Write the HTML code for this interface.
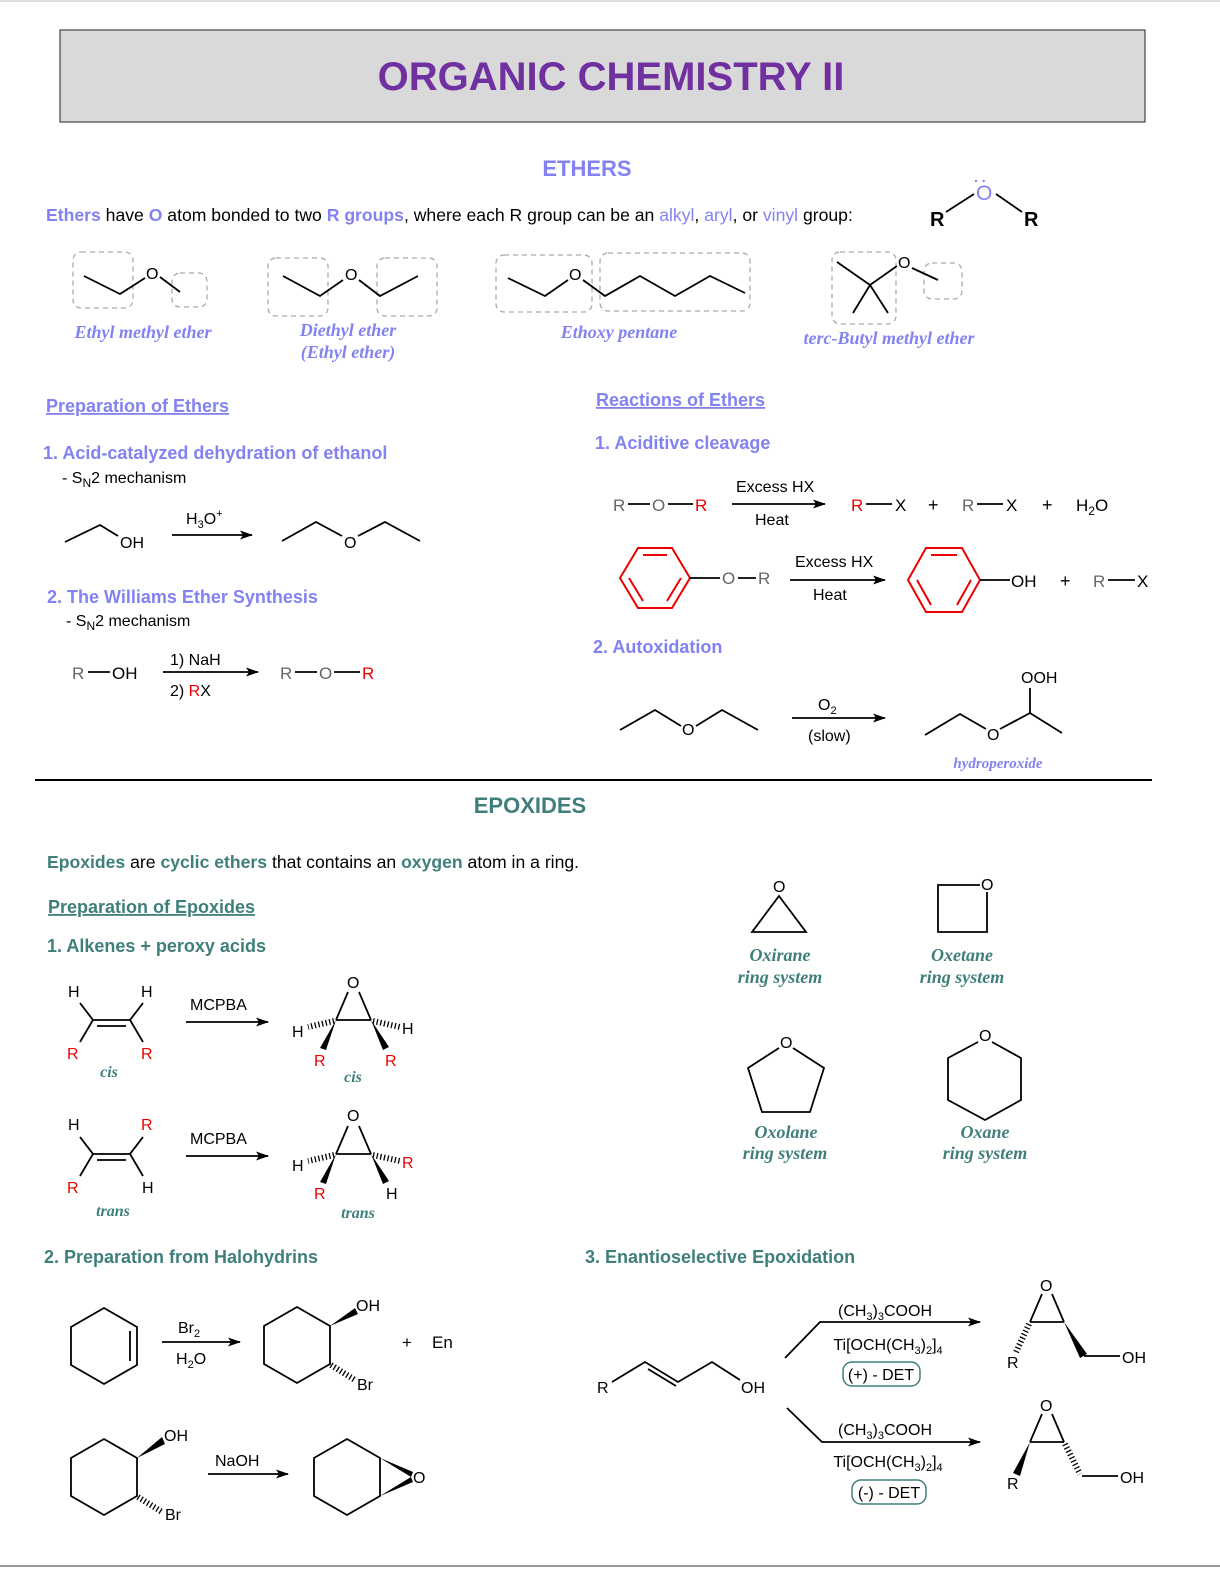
<!DOCTYPE html>
<html><head><meta charset="utf-8"><style>
html,body{margin:0;padding:0;background:#fff}
svg{display:block}
text{font-family:"Liberation Sans",sans-serif}
.lv{fill:#8282f2}
.tl{fill:#3f7f7b}
.b{font-weight:bold}
.it{font-family:"Liberation Serif",serif;font-style:italic;font-weight:bold;font-size:18px}
.s{stroke:#000;stroke-width:1.8;fill:none}
.red{fill:#e00}
.gr{fill:#666}
.box{stroke:#aaa;stroke-width:1.3;fill:none;stroke-dasharray:5 4}
.h{stroke:#000;stroke-width:6;stroke-dasharray:1.3 2.4;fill:none}
</style></head><body>
<svg width="1220" height="1588" viewBox="0 0 1220 1588" xmlns="http://www.w3.org/2000/svg">
<defs><marker id="ar" markerWidth="13" markerHeight="9" refX="12" refY="4.5" orient="auto" markerUnits="userSpaceOnUse"><path d="M0,0 L13,4.5 L0,9 L3,4.5z" fill="#000"/></marker></defs>
<line x1="0" y1="1" x2="1220" y2="1" stroke="#bbb"/>
<line x1="0" y1="1566" x2="1220" y2="1566" stroke="#999" stroke-width="2"/>
<rect x="60" y="30" width="1085" height="92" fill="#d9d9d9" stroke="#444" stroke-width="1.2"/>
<text x="611" y="90" text-anchor="middle" font-size="40" font-weight="bold" fill="#7030a0">ORGANIC CHEMISTRY II</text>

<text x="587" y="176" text-anchor="middle" font-size="22" class="lv b">ETHERS</text>
<text x="46" y="221" font-size="17.6"><tspan class="lv b">Ethers</tspan> have <tspan class="lv b">O</tspan> atom bonded to two <tspan class="lv b">R groups</tspan>, where each R group can be an <tspan class="lv">alkyl</tspan>, <tspan class="lv">aryl</tspan>, or <tspan class="lv">vinyl</tspan> group:</text>
<text x="930" y="226" font-size="20" font-weight="bold">R</text>
<text x="1024" y="226" font-size="20" font-weight="bold">R</text>
<text x="976" y="200" font-size="21" class="lv">O</text>
<text x="974" y="182" font-size="14" class="lv b">. .</text>
<path class="s" d="M946,212 L974,194 M996,194 L1022,212"/>

<!-- ethers -->
<rect class="box" x="73" y="252" width="60" height="56" rx="8"/><rect class="box" x="172" y="273" width="35" height="34" rx="8"/>
<path class="s" d="M84,276 L120,294 L145,278 M160,277 L180,292"/><text x="146" y="279" font-size="16">O</text>
<rect class="box" x="268" y="258" width="60" height="58" rx="8"/><rect class="box" x="377" y="258" width="60" height="58" rx="8"/>
<path class="s" d="M283,276 L320,296 L343,280 M359,280 L380,296 L418,276"/><text x="345" y="280" font-size="16">O</text>
<rect class="box" x="496" y="255" width="96" height="57" rx="8"/><rect class="box" x="600" y="253" width="150" height="58" rx="8"/>
<path class="s" d="M508,278 L545,296 L568,280 M583,280 L605,296 L640,276 L675,296 L710,276 L745,293"/>
<text x="569" y="280" font-size="16">O</text>
<rect class="box" x="832" y="252" width="64" height="72" rx="8"/><rect class="box" x="924" y="263" width="38" height="36" rx="8"/>
<path class="s" d="M837,262 L870,285 L897,266 M870,285 L853,313 M870,285 L888,313 M912,268 L938,280"/>
<text x="898" y="268" font-size="16">O</text>
<text x="143" y="338" text-anchor="middle" class="it lv">Ethyl methyl ether</text>
<text x="348" y="336" text-anchor="middle" class="it lv">Diethyl ether</text>
<text x="348" y="358" text-anchor="middle" class="it lv">(Ethyl ether)</text>
<text x="619" y="338" text-anchor="middle" class="it lv">Ethoxy pentane</text>
<text x="889" y="344" text-anchor="middle" class="it lv">terc-Butyl methyl ether</text>

<!-- preparation of ethers -->
<text x="46" y="412" font-size="18" class="lv b" text-decoration="underline">Preparation of Ethers</text>
<text x="43" y="459" font-size="18" class="lv b">1. Acid-catalyzed dehydration of ethanol</text>
<text x="62" y="483" font-size="16">- S<tspan font-size="12" dy="4">N</tspan><tspan dy="-4">2 mechanism</tspan></text>
<path class="s" d="M65,542 L100,525 L118,536"/><text x="120" y="548" font-size="16">OH</text>
<line class="s" x1="172" y1="535" x2="252" y2="535" marker-end="url(#ar)"/>
<text x="186" y="524" font-size="16">H<tspan font-size="11" dy="4">3</tspan><tspan dy="-4">O</tspan><tspan font-size="11" dy="-7">+</tspan></text>
<path class="s" d="M282,541 L316,522 L342,536 M358,536 L385,522 L420,541"/><text x="344" y="548" font-size="16">O</text>
<text x="47" y="603" font-size="18" class="lv b">2. The Williams Ether Synthesis</text>
<text x="66" y="626" font-size="16">- S<tspan font-size="12" dy="4">N</tspan><tspan dy="-4">2 mechanism</tspan></text>
<text x="72" y="679" font-size="17" class="gr">R</text><line class="s" x1="88" y1="672" x2="110" y2="672"/><text x="112" y="679" font-size="17">OH</text>
<line class="s" x1="163" y1="672" x2="258" y2="672" marker-end="url(#ar)"/>
<text x="170" y="665" font-size="16">1) NaH</text><text x="170" y="696" font-size="16">2) <tspan class="red">R</tspan>X</text>
<text x="280" y="679" font-size="17" class="gr">R</text><line class="s" x1="295" y1="672" x2="317" y2="672"/><text x="319" y="679" font-size="17" class="gr">O</text><line class="s" x1="334" y1="672" x2="360" y2="672"/><text x="362" y="679" font-size="17" class="red">R</text>

<!-- reactions of ethers -->
<text x="596" y="406" font-size="18" class="lv b" text-decoration="underline">Reactions of Ethers</text>
<text x="595" y="449" font-size="18" class="lv b">1. Aciditive cleavage</text>
<text x="613" y="511" font-size="17" class="gr">R</text><line class="s" x1="628" y1="504" x2="650" y2="504"/><text x="652" y="511" font-size="17" class="gr">O</text><line class="s" x1="668" y1="504" x2="693" y2="504"/><text x="695" y="511" font-size="17" class="red">R</text>
<line class="s" x1="732" y1="504" x2="825" y2="504" marker-end="url(#ar)"/>
<text x="736" y="492" font-size="16">Excess HX</text><text x="755" y="525" font-size="16">Heat</text>
<text x="851" y="511" font-size="17" class="red">R</text><line class="s" x1="866" y1="504" x2="892" y2="504"/><text x="895" y="511" font-size="17">X</text>
<text x="928" y="511" font-size="18">+</text>
<text x="962" y="511" font-size="17" class="gr">R</text><line class="s" x1="977" y1="504" x2="1003" y2="504"/><text x="1006" y="511" font-size="17">X</text>
<text x="1042" y="511" font-size="18">+</text>
<text x="1076" y="511" font-size="17">H<tspan font-size="12" dy="4">2</tspan><tspan dy="-4">O</tspan></text>
<g stroke="#e00" stroke-width="2" fill="none">
<polygon points="638,548 672,548 690,578 672,608 638,608 620,578"/>
<path d="M643,555 L667,555 M681,578 L667,601 M643,601 L629,578"/>
<polygon points="926,548 962,548 980,580 962,612 926,612 908,580"/>
<path d="M931,555 L957,555 M971,580 L957,605 M931,605 L917,580"/>
</g>
<line class="s" x1="690" y1="578" x2="720" y2="578"/><text x="722" y="584" font-size="17" class="gr">O</text><line class="s" x1="738" y1="578" x2="756" y2="578"/><text x="758" y="584" font-size="17" class="gr">R</text>
<line class="s" x1="790" y1="580" x2="885" y2="580" marker-end="url(#ar)"/>
<text x="795" y="567" font-size="16">Excess HX</text><text x="813" y="600" font-size="16">Heat</text>
<line class="s" x1="980" y1="580" x2="1010" y2="580"/><text x="1011" y="587" font-size="17">OH</text>
<text x="1060" y="587" font-size="18">+</text>
<text x="1093" y="587" font-size="17" class="gr">R</text><line class="s" x1="1108" y1="580" x2="1135" y2="580"/><text x="1137" y="587" font-size="17">X</text>
<text x="593" y="653" font-size="18" class="lv b">2. Autoxidation</text>
<path class="s" d="M620,730 L655,710 L681,726 M696,726 L722,710 L758,730"/><text x="682" y="735" font-size="16">O</text>
<line class="s" x1="792" y1="718" x2="885" y2="718" marker-end="url(#ar)"/>
<text x="818" y="710" font-size="16">O<tspan font-size="11" dy="4">2</tspan></text><text x="808" y="741" font-size="16">(slow)</text>
<path class="s" d="M925,735 L960,714 L986,729 M1000,729 L1030,713 L1062,733 M1030,713 L1030,688"/><text x="987" y="740" font-size="16">O</text>
<text x="1021" y="683" font-size="16">OOH</text>
<text x="998" y="768" text-anchor="middle" class="it lv" style="font-size:15px">hydroperoxide</text>

<line x1="35" y1="780" x2="1152" y2="780" stroke="#000" stroke-width="2"/>

<!-- epoxides -->
<text x="530" y="813" text-anchor="middle" font-size="22" class="tl b">EPOXIDES</text>
<text x="47" y="868" font-size="17.6"><tspan class="tl b">Epoxides</tspan> are <tspan class="tl b">cyclic ethers</tspan> that contains an <tspan class="tl b">oxygen</tspan> atom in a ring.</text>
<text x="48" y="913" font-size="18" class="tl b" text-decoration="underline">Preparation of Epoxides</text>
<text x="47" y="952" font-size="18" class="tl b">1. Alkenes + peroxy acids</text>

<!-- cis -->
<text x="68" y="997" font-size="16">H</text><text x="141" y="997" font-size="16">H</text>
<path class="s" d="M80,1003 L93,1020 L80,1042 M143,1003 L130,1020 L143,1042 M93,1020 L130,1020 M97,1026 L126,1026"/>
<text x="67" y="1059" font-size="16" class="red">R</text><text x="141" y="1059" font-size="16" class="red">R</text>
<text x="109" y="1077" text-anchor="middle" class="it tl" style="font-size:16px">cis</text>
<line class="s" x1="186" y1="1022" x2="268" y2="1022" marker-end="url(#ar)"/><text x="190" y="1010" font-size="16">MCPBA</text>
<text x="347" y="988" font-size="16">O</text>
<path class="s" d="M336,1020 L348,992 M371,1020 L359,992 M336,1020 L371,1020"/>
<line class="h" x1="334" y1="1021" x2="308" y2="1027"/><line class="h" x1="373" y1="1021" x2="400" y2="1027"/>
<text x="292" y="1037" font-size="16">H</text><text x="402" y="1034" font-size="16">H</text>
<polygon points="336,1020 320,1048 326,1050" fill="#000"/><polygon points="371,1020 383,1050 389,1047" fill="#000"/>
<text x="314" y="1066" font-size="16" class="red">R</text><text x="385" y="1066" font-size="16" class="red">R</text>
<text x="353" y="1082" text-anchor="middle" class="it tl" style="font-size:16px">cis</text>
<!-- trans -->
<text x="68" y="1130" font-size="16">H</text><text x="141" y="1130" font-size="16" class="red">R</text>
<path class="s" d="M80,1137 L93,1154 L80,1176 M143,1137 L130,1154 L143,1176 M93,1154 L130,1154 M97,1160 L126,1160"/>
<text x="67" y="1193" font-size="16" class="red">R</text><text x="142" y="1193" font-size="16">H</text>
<text x="113" y="1216" text-anchor="middle" class="it tl" style="font-size:16px">trans</text>
<line class="s" x1="186" y1="1156" x2="268" y2="1156" marker-end="url(#ar)"/><text x="190" y="1144" font-size="16">MCPBA</text>
<text x="347" y="1121" font-size="16">O</text>
<path class="s" d="M336,1154 L348,1126 M371,1154 L359,1126 M336,1154 L371,1154"/>
<line class="h" x1="334" y1="1155" x2="308" y2="1161"/><line class="h" x1="373" y1="1155" x2="400" y2="1161"/>
<text x="292" y="1171" font-size="16">H</text><text x="402" y="1168" font-size="16" class="red">R</text>
<polygon points="336,1154 320,1182 326,1184" fill="#000"/><polygon points="371,1154 383,1184 389,1181" fill="#000"/>
<text x="314" y="1199" font-size="16" class="red">R</text><text x="386" y="1199" font-size="16">H</text>
<text x="358" y="1218" text-anchor="middle" class="it tl" style="font-size:16px">trans</text>

<!-- rings -->
<text x="773" y="892" font-size="16">O</text>
<polygon class="s" points="779,896 806,932 752,932"/>
<text x="780" y="961" text-anchor="middle" class="it tl">Oxirane</text><text x="780" y="983" text-anchor="middle" class="it tl">ring system</text>
<path class="s" d="M980,885 L938,885 L938,932 L987,932 L987,892"/><text x="981" y="890" font-size="16">O</text>
<text x="962" y="961" text-anchor="middle" class="it tl">Oxetane</text><text x="962" y="983" text-anchor="middle" class="it tl">ring system</text>
<text x="780" y="1048" font-size="16">O</text>
<path class="s" d="M793,1048 L824,1068 L810,1112 L762,1112 L748,1068 L779,1048"/>
<text x="786" y="1138" text-anchor="middle" class="it tl">Oxolane</text><text x="785" y="1159" text-anchor="middle" class="it tl">ring system</text>
<text x="979" y="1041" font-size="16">O</text>
<path class="s" d="M992,1042 L1021,1058 L1021,1100 L985,1120 L948,1100 L948,1058 L978,1042"/>
<text x="985" y="1138" text-anchor="middle" class="it tl">Oxane</text><text x="985" y="1159" text-anchor="middle" class="it tl">ring system</text>

<!-- halohydrins -->
<text x="44" y="1263" font-size="18" class="tl b">2. Preparation from Halohydrins</text>
<polygon class="s" points="104,1308 137,1327 137,1365 104,1384 71,1365 71,1327"/>
<line class="s" x1="130" y1="1331" x2="130" y2="1361"/>
<line class="s" x1="162" y1="1342" x2="240" y2="1342" marker-end="url(#ar)"/>
<text x="178" y="1333" font-size="16">Br<tspan font-size="11" dy="4">2</tspan></text><text x="176" y="1364" font-size="16">H<tspan font-size="11" dy="4">2</tspan><tspan dy="-4">O</tspan></text>
<polygon class="s" points="297,1307 330,1326 330,1364 297,1383 264,1364 264,1326"/>
<polygon points="330,1326 355,1308 358,1314" fill="#000"/><text x="356" y="1311" font-size="16">OH</text>
<line class="h" x1="331" y1="1365" x2="355" y2="1380"/><text x="357" y="1390" font-size="16">Br</text>
<text x="402" y="1348" font-size="17">+</text><text x="432" y="1348" font-size="17">En</text>
<polygon class="s" points="104,1439 137,1458 137,1496 104,1515 71,1496 71,1458"/>
<polygon points="137,1458 162,1437 165,1444" fill="#000"/><text x="164" y="1441" font-size="16">OH</text>
<line class="h" x1="138" y1="1497" x2="162" y2="1512"/><text x="165" y="1520" font-size="16">Br</text>
<line class="s" x1="208" y1="1474" x2="288" y2="1474" marker-end="url(#ar)"/><text x="215" y="1466" font-size="16">NaOH</text>
<polygon class="s" points="347,1439 380,1458 380,1496 347,1515 314,1496 314,1458"/>
<polygon points="380,1458 413,1472 411,1477" fill="#000"/><polygon points="380,1496 413,1482 411,1477" fill="#000"/>
<text x="413" y="1483" font-size="16">O</text>

<!-- enantioselective -->
<text x="585" y="1263" font-size="18" class="tl b">3. Enantioselective Epoxidation</text>
<text x="597" y="1393" font-size="16">R</text>
<path class="s" d="M612,1382 L645,1362 L678,1382 L712,1362 L740,1380 M648,1369 L676,1386"/>
<text x="741" y="1393" font-size="16">OH</text>
<path class="s" d="M785,1358 L820,1322 L980,1322" marker-end="url(#ar)"/>
<text x="885" y="1316" text-anchor="middle" font-size="16">(CH<tspan font-size="11" dy="4">3</tspan><tspan dy="-4">)</tspan><tspan font-size="11" dy="4">3</tspan><tspan dy="-4">COOH</tspan></text>
<text x="888" y="1350" text-anchor="middle" font-size="16">Ti[OCH(CH<tspan font-size="11" dy="4">3</tspan><tspan dy="-4">)</tspan><tspan font-size="11" dy="4">2</tspan><tspan dy="-4">]</tspan><tspan font-size="11" dy="4">4</tspan></text>
<rect x="843" y="1362" width="77" height="24" rx="9" fill="none" stroke="#3f7f7b" stroke-width="1.5"/>
<text x="881" y="1380" text-anchor="middle" font-size="16">(+) - DET</text>
<path class="s" d="M787,1408 L822,1442 L980,1442" marker-end="url(#ar)"/>
<text x="885" y="1435" text-anchor="middle" font-size="16">(CH<tspan font-size="11" dy="4">3</tspan><tspan dy="-4">)</tspan><tspan font-size="11" dy="4">3</tspan><tspan dy="-4">COOH</tspan></text>
<text x="888" y="1467" text-anchor="middle" font-size="16">Ti[OCH(CH<tspan font-size="11" dy="4">3</tspan><tspan dy="-4">)</tspan><tspan font-size="11" dy="4">2</tspan><tspan dy="-4">]</tspan><tspan font-size="11" dy="4">4</tspan></text>
<rect x="852" y="1480" width="74" height="24" rx="9" fill="none" stroke="#3f7f7b" stroke-width="1.5"/>
<text x="889" y="1498" text-anchor="middle" font-size="16">(-) - DET</text>
<text x="1040" y="1291" font-size="16">O</text>
<path class="s" d="M1030,1322 L1042,1294 M1064,1322 L1052,1294 M1030,1322 L1064,1322"/>
<line class="h" x1="1029" y1="1324" x2="1016" y2="1352"/><text x="1007" y="1368" font-size="16">R</text>
<polygon points="1064,1322 1080,1358 1087,1354" fill="#000"/><line class="s" x1="1084" y1="1356" x2="1120" y2="1356"/>
<text x="1122" y="1363" font-size="16">OH</text>
<text x="1040" y="1411" font-size="16">O</text>
<path class="s" d="M1030,1442 L1042,1414 M1064,1442 L1052,1414 M1030,1442 L1064,1442"/>
<polygon points="1030,1442 1013,1473 1020,1476" fill="#000"/><text x="1007" y="1489" font-size="16">R</text>
<line class="h" x1="1065" y1="1444" x2="1080" y2="1474"/><line class="s" x1="1082" y1="1476" x2="1118" y2="1476"/>
<text x="1120" y="1483" font-size="16">OH</text>
</svg>
</body></html>
